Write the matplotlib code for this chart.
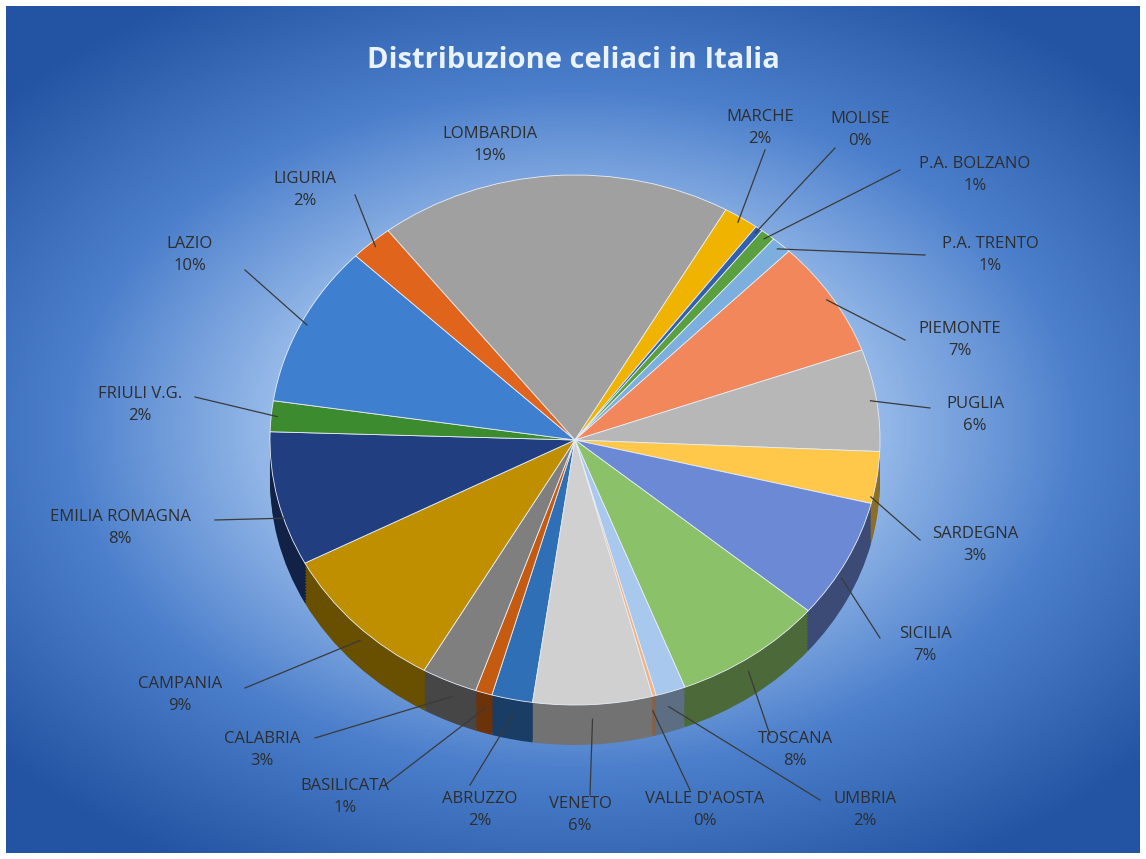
import numpy as np
import matplotlib
matplotlib.use("Agg")
import matplotlib.pyplot as plt
import matplotlib.colors as mcolors

regions = ["ABRUZZO", "BASILICATA", "CALABRIA", "CAMPANIA", "EMILIA ROMAGNA", "FRIULI V.G.",
           "LAZIO", "LIGURIA", "LOMBARDIA", "MARCHE", "MOLISE", "P.A. BOLZANO", "P.A. TRENTO",
           "PIEMONTE", "PUGLIA", "SARDEGNA", "SICILIA", "TOSCANA", "UMBRIA", "VALLE D'AOSTA", "VENETO"]
values = [2.2, 0.9, 3.0, 9.2, 8.3, 1.9, 10.0, 2.3, 19.0, 1.9, 0.4, 0.8, 1.1,
          7.2, 6.3, 3.2, 7.4, 8.1, 1.6, 0.2, 6.4]
pct_labels = ["2%", "1%", "3%", "9%", "8%", "2%", "10%", "2%", "19%", "2%", "0%", "1%", "1%",
              "7%", "6%", "3%", "7%", "8%", "2%", "0%", "6%"]
colors = ["#2E6FB5", "#C55A11", "#7F7F7F", "#BF8F00", "#203E80", "#3D8B2F", "#3F7FCF",
          "#E0641C", "#A0A0A0", "#F0B400", "#3060B0", "#5BA040", "#7CAFDD", "#F1875A",
          "#B7B7B7", "#FFC84A", "#6C89D6", "#8BC168", "#A9C8EE", "#F4B183", "#D0D0D0"]

# label centres in pixel coords (layout), and where the leader line leaves the label
label_pos = [(480, 810), (345, 797), (262, 750), (180, 695), (120, 528), (140, 405),
             (190, 255), (305, 190), (490, 145), (760, 128), (860, 130), (975, 175),
             (990, 255), (960, 340), (975, 415), (975, 545), (925, 645), (795, 750),
             (865, 810), (705, 810), (580, 815)]
line_start = [(470, 785), (385, 785), (315, 738), (245, 688), (215, 520), (195, 397),
              (245, 270), (355, 195), None, (765, 150), (835, 148), (900, 170),
              (925, 255), (905, 340), (930, 408), (920, 540), (880, 638), (770, 735),
              (820, 800), (690, 790), (590, 795)]

W, H = 1146, 859
cx, cy, rx, ry, depth = 575, 440, 305, 265, 40
start = 262

fig = plt.figure(figsize=(W / 100, H / 100), dpi=100)
fig.patch.set_facecolor("white")

# background gradient
bg = fig.add_axes([6 / W, 6 / H, 1 - 12 / W, 1 - 12 / H])
yy, xx = np.mgrid[-1:1:300j, -1:1:400j]
r = np.clip(np.sqrt((xx * 0.9) ** 2 + (yy * 1.0) ** 2), 0, 1.2) / 1.2
cmap = mcolors.LinearSegmentedColormap.from_list("bg", ["#DCEAFA", "#A8C8F0", "#4D80CC", "#2254A3"])
bg.imshow(r, cmap=cmap, aspect="auto", extent=[0, 1, 0, 1])
bg.axis("off")

# pie axes (elliptical)
ax = fig.add_axes([(cx - rx) / W, (H - cy - ry - depth) / H, 2 * rx / W, (2 * ry + depth) / H])
dark = [tuple(v * 0.55 for v in mcolors.to_rgb(c)) for c in colors]
for k in np.linspace(depth / ry, 0.005, 14):
    ax.pie(values, colors=dark, startangle=start, counterclock=False, center=(0, -k),
           radius=1, wedgeprops=dict(linewidth=0))
ax.pie(values, colors=colors, startangle=start, counterclock=False, center=(0, 0),
       radius=1, wedgeprops=dict(linewidth=0.6, edgecolor="#E8EEF8"))
ax.set_aspect("auto")
ax.set_xlim(-1, 1)
ax.set_ylim(-1 - depth / ry, 1)
ax.axis("off")

# labels overlay
ov = fig.add_axes([0, 0, 1, 1])
ov.set_xlim(0, W)
ov.set_ylim(H, 0)
ov.axis("off")
total = sum(values)
cum = 0
for name, v, p, (lx, ly), ls in zip(regions, values, pct_labels, label_pos, line_start):
    mid = np.radians(start - (cum + v / 2) / total * 360)
    cum += v
    ex, ey = cx + rx * np.cos(mid) * 0.98, cy - ry * np.sin(mid) * 0.98
    if np.sin(mid) < 0:
        ey += depth * 0.5
    if ls is not None:
        ov.plot([ls[0], ex], [ls[1], ey], color="#3A3A3A", lw=0.9)
    ov.text(lx, ly, f"{name}\n{p}", ha="center", va="center", fontsize=12,
            color="#2E2E2E", family="Open Sans", linespacing=1.5)

ov.text(W / 2, 60, "Distribuzione celiaci in Italia", ha="center", va="center",
        fontsize=21, fontweight="bold", color="#EAF2FC", family="Open Sans")

fig.savefig("out.png", dpi=100)
